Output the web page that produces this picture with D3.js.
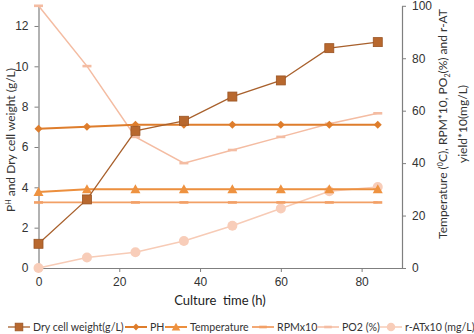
<!DOCTYPE html>
<html><head><meta charset="utf-8">
<script src="https://cdn.jsdelivr.net/npm/d3@7"></script>
<style>body{margin:0;background:#fff}svg{display:block;font-family:Lato,"Open Sans",sans-serif}</style>
</head><body><svg id="c" width="474" height="334"></svg>
<script>
const time = [0, 12, 24, 36, 48, 60, 72, 84];
const dryCell = [1.2, 3.4, 6.8, 7.3, 8.5, 9.3, 10.9, 11.2];
const ph = [6.9, 7.0, 7.1, 7.1, 7.1, 7.1, 7.1, 7.1];
const temperature = [29, 30, 30, 30, 30, 30, 30, 30];
const rpm10 = [25, 25, 25, 25, 25, 25, 25, 25];
const po2 = [100, 77, 50, 40, 45, 50, 55, 59];
const rat10 = [0, 4, 6, 10.3, 16.1, 22.7, 29.3, 30.9];
const xTicks = [0, 20, 40, 60, 80];
const leftTicks = [0, 2, 4, 6, 8, 10, 12];
const rightTicks = [0, 20, 40, 60, 80, 100];

const svg = d3.select("#c");
const x = d3.scaleLinear().domain([0, 90]).range([38.5, 402]);
const yL = d3.scaleLinear().domain([0, 13]).range([268, 5.8]);
const yR = d3.scaleLinear().domain([0, 100]).range([268, 5.8]);
const axisCol = "#7f7f7f";

function styleAxis(g){
  g.selectAll(".domain").attr("stroke", axisCol).attr("stroke-width", 1.2);
  g.selectAll(".tick line").attr("stroke", axisCol);
  g.selectAll(".tick text").attr("fill", "#333").attr("font-size", 12);
}
svg.append("g").attr("transform", "translate(0,268)")
  .call(d3.axisBottom(x).tickValues(xTicks).tickSize(4).tickSizeOuter(0).tickPadding(5))
  .call(styleAxis);
svg.append("g").attr("transform", "translate(38.5,0)")
  .call(d3.axisLeft(yL).tickValues(leftTicks).tickSize(4).tickSizeOuter(0).tickPadding(6))
  .call(styleAxis);
svg.append("g").attr("transform", "translate(402,0)")
  .call(d3.axisRight(yR).tickValues(rightTicks).tickSize(4).tickSizeOuter(0).tickPadding(6))
  .call(styleAxis);

const series = [
  {name: "Dry cell weight(g/L)", vals: dryCell, y: yL, line: "#a8602c", fill: "#b8682e", stroke: "#9a5424", shape: "square", lw: 1.3},
  {name: "PH", vals: ph, y: yL, line: "#de7d2c", fill: "#de7d2c", stroke: "#de7d2c", shape: "diamond", lw: 2},
  {name: "Temperature", vals: temperature, y: yR, line: "#ec8f3e", fill: "#ee9240", stroke: "#ee9240", shape: "triangle", lw: 2},
  {name: "RPMx10", vals: rpm10, y: yR, line: "#f2a066", fill: "#f2a066", stroke: "#f2a066", shape: "dash", lw: 1.8},
  {name: "PO2 (%)", vals: po2, y: yR, line: "#f4bca2", fill: "#f4bca2", stroke: "#f4bca2", shape: "dash", lw: 1.5},
  {name: "r-ATx10 (mg/L)", vals: rat10, y: yR, line: "#f7cbb6", fill: "#f8cdb9", stroke: "#f8cdb9", shape: "circle", lw: 1.5}
];

function drawMarker(g, s, cx, cy, scale){
  const k = scale || 1;
  if (s.shape === "square") g.append("rect").attr("x", cx-4.5*k).attr("y", cy-4.5*k).attr("width", 9*k).attr("height", 9*k).attr("fill", s.fill).attr("stroke", s.stroke).attr("stroke-width", 0.8);
  else if (s.shape === "diamond") g.append("path").attr("d", `M${cx},${cy-4*k}L${cx+4*k},${cy}L${cx},${cy+4*k}L${cx-4*k},${cy}Z`).attr("fill", s.fill);
  else if (s.shape === "triangle") g.append("path").attr("d", `M${cx},${cy-5*k}L${cx+5*k},${cy+4*k}L${cx-5*k},${cy+4*k}Z`).attr("fill", s.fill);
  else if (s.shape === "dash") g.append("rect").attr("x", cx-4.5*k).attr("y", cy-1.3).attr("width", 9*k).attr("height", 2.6).attr("fill", s.fill);
  else if (s.shape === "circle") g.append("circle").attr("cx", cx).attr("cy", cy).attr("r", 5*k).attr("fill", s.fill);
}

const order = [5, 4, 3, 2, 1, 0];
order.forEach(i => {
  const s = series[i];
  const g = svg.append("g");
  const line = d3.line().x((d, j) => x(time[j])).y(d => s.y(d));
  g.append("path").datum(s.vals).attr("d", line).attr("fill", "none").attr("stroke", s.line).attr("stroke-width", s.lw);
  s.vals.forEach((v, j) => drawMarker(g, s, x(time[j]), s.y(v)));
});

// axis titles
svg.append("text").attr("x", 220).attr("y", 305).attr("text-anchor", "middle").attr("font-size", 13).attr("fill", "#222").attr("xml:space", "preserve").text("Culture  time (h)");
const lt = svg.append("text").attr("transform", "translate(15,140) rotate(-90)").attr("text-anchor", "middle").attr("font-size", 12).attr("fill", "#333");
lt.append("tspan").text("P");
lt.append("tspan").attr("font-size", 7).attr("dy", -4).text("H");
lt.append("tspan").attr("dy", 4).text(" and Dry cell weight (g/L)");
const rt = svg.append("text").attr("transform", "translate(447,124) rotate(-90)").attr("text-anchor", "middle").attr("font-size", 12).attr("fill", "#333");
rt.append("tspan").text("Temperature (");
rt.append("tspan").attr("font-size", 7).attr("dy", -4).text("0");
rt.append("tspan").attr("dy", 4).text("C), RPM*10, PO");
rt.append("tspan").attr("font-size", 7).attr("dy", 3).text("2");
rt.append("tspan").attr("dy", -3).text("(%) and  r-AT");
svg.append("text").attr("transform", "translate(467,124) rotate(-90)").attr("text-anchor", "middle").attr("font-size", 12).attr("fill", "#333").text("yield*10(mg/L)");

// legend
const legX = [8, 125, 165, 252, 317, 380];
series.forEach((s, i) => {
  const g = svg.append("g");
  const lx = legX[i], ly = 327;
  g.append("line").attr("x1", lx).attr("x2", lx + 22).attr("y1", ly).attr("y2", ly).attr("stroke", s.line).attr("stroke-width", s.lw);
  drawMarker(g, s, lx + 11, ly, 0.85);
  g.append("text").attr("x", lx + 25).attr("y", ly + 4).attr("font-size", 10.6).attr("fill", "#333").text(s.name);
});
</script></body></html>
